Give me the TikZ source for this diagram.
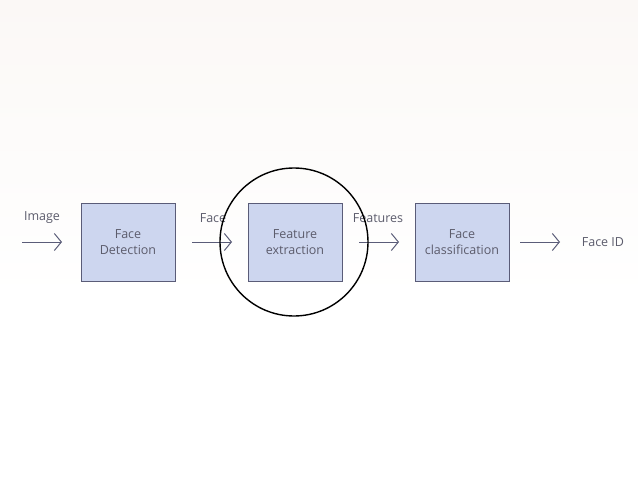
\documentclass[tikz,border=0pt]{standalone}
\usepackage{fontspec}
\setmainfont{Open Sans}
\usetikzlibrary{arrows.meta}
\definecolor{boxfill}{HTML}{CDD6EF}
\definecolor{boxline}{HTML}{5A5C78}
\definecolor{txt}{HTML}{5C5C6C}
\definecolor{bgtop}{HTML}{FBF8F6}
\tikzset{
  stage/.style={draw=boxline, fill=boxfill, line width=1pt, minimum width=94pt, minimum height=78pt, text=txt, font=\fontsize{12.5}{16}\selectfont, align=center},
  lbl/.style={text=txt, font=\fontsize{12.5}{16}\selectfont},
  flow/.style={draw=boxline, line width=1pt, -{Straight Barb[length=7pt,width=17pt,line width=1pt]}}
}
\begin{document}
\begin{tikzpicture}[x=1pt,y=-1pt]
\useasboundingbox (0,0) rectangle (638,479);
\shade[top color=bgtop, bottom color=white] (0,0) rectangle (638,300);
\fill[white] (0,300) rectangle (638,479);
\node[stage] (fd) at (128,242) {Face\\Detection};
\node[stage] (fe) at (295,242) {Feature\\extraction};
\node[stage] (fc) at (462,242) {Face\\classification};
\coordinate (s0) at (22,242); \coordinate (e0) at (62,242);
\coordinate (s1) at (192,242); \coordinate (e1) at (232,242);
\coordinate (s2) at (359,242); \coordinate (e2) at (399,242);
\coordinate (s3) at (520,242); \coordinate (e3) at (560,242);
\draw[flow] (s0) -- (e0);
\draw[flow] (s1) -- (e1);
\draw[flow] (s2) -- (e2);
\draw[flow] (s3) -- (e3);
\node[lbl] (l0) at (42,218) {Image};
\node[lbl] (l1) at (213,218) {Face};
\node[lbl] (l2) at (378,218) {Features};
\node[lbl] (l3) at (603,242) {Face ID};
\node[draw=black, line width=1.4pt, circle, minimum size=148pt] (ring) at (294,242) {};
\end{tikzpicture}
\end{document}
